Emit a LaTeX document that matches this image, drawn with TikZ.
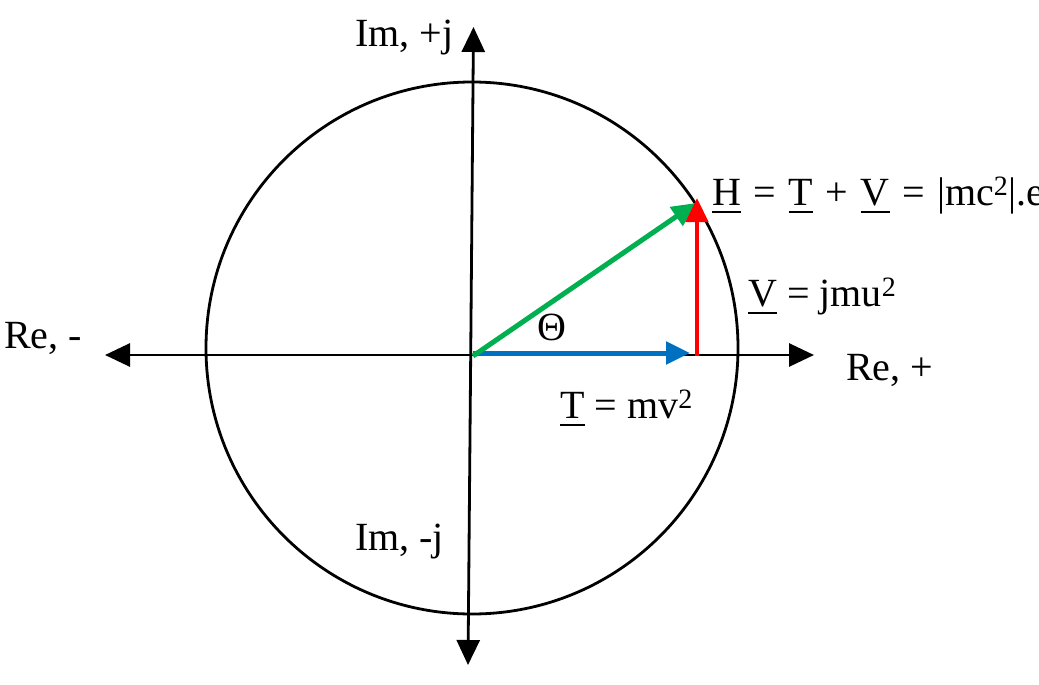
\documentclass[tikz,border=0pt]{standalone}
\usepackage{fontspec}
\setmainfont{Liberation Serif}
\usetikzlibrary{arrows.meta}
\newcommand\ulx[1]{\setbox0\hbox{#1}\rlap{\rule[-8pt]{\wd0}{2pt}}\box0\relax}
\definecolor{vgreen}{RGB}{0,176,80}
\definecolor{vblue}{RGB}{0,112,192}
\definecolor{vred}{RGB}{255,0,0}
\begin{document}
\begin{tikzpicture}[x=1pt,y=-1pt,
  axis/.style={line width=2.8pt, -{Triangle[length=25pt,width=23pt]}},
  vec/.style={line width=5pt, -{Triangle[length=24pt,width=22pt]}},
  lbl/.style={inner sep=0pt, anchor=base west, font=\fontsize{40}{46}\selectfont}]
\useasboundingbox (0,0) rectangle (1039,685);
\clip (0,0) rectangle (1039,685);
\fill[white] (0,0) rectangle (1039,685);
\coordinate (C) at (472,348);
\coordinate (O) at (472,355);
\coordinate (Ov) at (470.7,355);
\coordinate (Rp) at (814,355);
\coordinate (Rm) at (105,355);
\coordinate (Ip) at (473.5,27);
\coordinate (Im) at (468,665);
\coordinate (Ts) at (473,353);
\coordinate (Te) at (690,353);
\coordinate (Vs) at (697,356);
\coordinate (Ve) at (697,198);
\coordinate (Hs) at (473,356);
\coordinate (He) at (696,203);
\draw[line width=2.8pt] (C) circle[radius=266];
\draw[axis] (O) -- (Rp);
\draw[axis] (O) -- (Rm);
\draw[axis] (Ov) -- (Ip);
\draw[axis] (Ov) -- (Im);
\draw[vec, vblue] (Ts) -- (Te);
\draw[vec, vgreen] (Hs) -- (He);
\draw[vec, vred, line width=4.5pt] (Vs) -- (Ve);
\node[lbl] (lip) at (355,47) {Im, +j};
\node[lbl] (lim) at (355,550) {Im, -j};
\node[lbl] (lrm) at (4,348) {Re, -};
\node[lbl] (lrp) at (846,380) {Re, +};
\node[lbl] (lth) at (537,340) {Θ};
\node[lbl] (lH) at (712,205) {\spaceskip=12.5pt\relax\ulx{H} = \ulx{T} + \ulx{V} = |mc\textsuperscript{2}|.e\textsuperscript{jΘ}};
\node[lbl] (lV) at (748,306) {\ulx{V} = jmu\textsuperscript{2}};
\node[lbl] (lT) at (560,418) {\ulx{T} = mv\textsuperscript{2}};
\end{tikzpicture}
\end{document}
